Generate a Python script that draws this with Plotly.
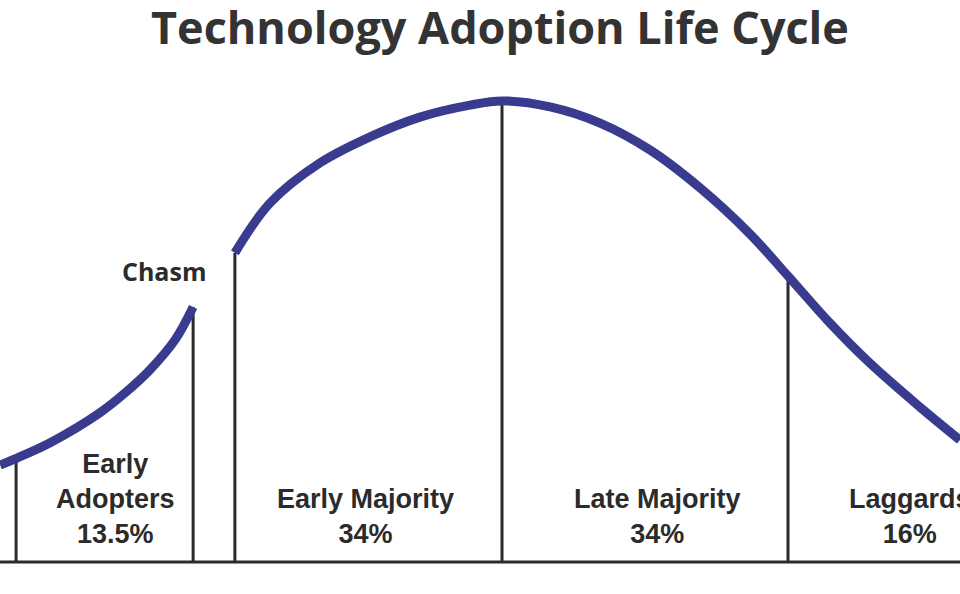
import plotly.graph_objects as go

# ---- data (x in standard deviations from the mean, y as share of the peak height) ----
left_x = [-1.755, -1.696, -1.580, -1.406, -1.318, -1.231, -1.143, -1.080]
left_y = [0.210, 0.225, 0.258, 0.323, 0.366, 0.416, 0.481, 0.552]

right_x = [-0.934, -0.811, -0.636, -0.462, -0.287, -0.112, 0.0, 0.168, 0.343,
           0.517, 0.692, 0.867, 1.000, 1.147, 1.287, 1.462, 1.601]
right_y = [0.669, 0.777, 0.864, 0.920, 0.963, 0.989, 0.998, 0.985, 0.950,
           0.892, 0.810, 0.710, 0.619, 0.517, 0.430, 0.335, 0.264]

divider_x = [-1.699, -1.080, -0.934, 0.0, 1.0]
divider_top = [0.225, 0.552, 0.669, 1.0, 0.619]

segment_names = ["Early<br>Adopters", "Early Majority", "Late Majority", "Laggards"]
segment_shares = ["13.5%", "34%", "34%", "16%"]

title_text = "Technology Adoption Life Cycle"
chasm_text = "Chasm"

# ---- styling ----
CURVE = "#393c8e"
INK = "#2b2b2b"
W, H = 960, 594
PX0, SIG = 502, 286          # pixel of mean, pixels per sd
BASE, PEAK = 562, 462        # baseline pixel, peak height in pixels


def px_to_x(p):
    return (p - PX0) / SIG


def py_to_y(p):
    return (BASE - p) / PEAK


fig = go.Figure()

# dividers
dx, dy = [], []
for x, t in zip(divider_x, divider_top):
    dx += [x, x, None]
    dy += [0, t, None]
fig.add_trace(go.Scatter(x=dx, y=dy, mode="lines",
                         line=dict(color=INK, width=3), hoverinfo="skip"))

# baseline
fig.add_shape(type="line", xref="paper", yref="y", x0=0, x1=1, y0=0, y1=0,
              line=dict(color=INK, width=3), layer="above")

# curve segments
for xs, ys in ((left_x, left_y), (right_x, right_y)):
    fig.add_trace(go.Scatter(x=xs, y=ys, mode="lines",
                             line=dict(color=CURVE, width=9, shape="spline", smoothing=1.0),
                             hoverinfo="skip"))

# segment labels
label_px = [115, 365, 657, 910]
for name, share, p in zip(segment_names, segment_shares, label_px):
    fig.add_annotation(x=px_to_x(p), y=py_to_y(551), xref="x", yref="y",
                       text=f"{name}<br>{share}", showarrow=False,
                       xanchor="center", yanchor="bottom",
                       font=dict(family="Liberation Sans, Arial, sans-serif",
                                 size=27, color=INK, weight="bold"))

fig.add_annotation(x=px_to_x(164), y=py_to_y(271), xref="x", yref="y",
                   text=chasm_text, showarrow=False, xanchor="center", yanchor="middle",
                   font=dict(family="Open Sans, sans-serif", size=25, color=INK,
                             weight="bold"))

fig.add_annotation(x=500 / W, y=1 - 27 / H, xref="paper", yref="paper",
                   text=title_text, showarrow=False, xanchor="center", yanchor="middle",
                   font=dict(family="Open Sans, sans-serif",
                             size=45, color="#333333", weight="bold"))

fig.update_layout(
    width=W, height=H, margin=dict(l=0, r=0, t=0, b=0),
    paper_bgcolor="white", plot_bgcolor="white", showlegend=False,
    xaxis=dict(range=[px_to_x(0), px_to_x(W)], visible=False, fixedrange=True),
    yaxis=dict(range=[py_to_y(H), py_to_y(0)], visible=False, fixedrange=True),
)

fig.write_html("out.html")
